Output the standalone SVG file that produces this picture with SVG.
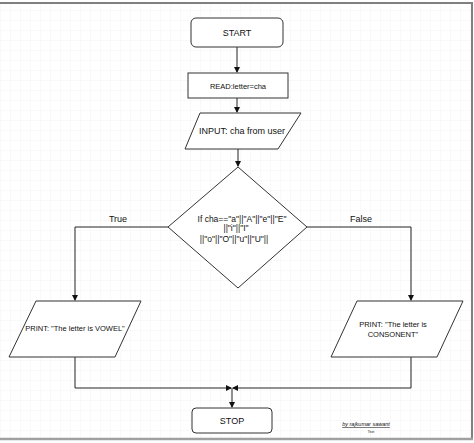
<svg xmlns="http://www.w3.org/2000/svg" width="474" height="443" viewBox="0 0 474 443">
<defs>
<pattern id="grid" width="10" height="10" patternUnits="userSpaceOnUse">
<path d="M10 0 L0 0 0 10" fill="none" stroke="#f4f4f4" stroke-width="1"/>
</pattern>
<marker id="arr" markerWidth="6" markerHeight="6" refX="5" refY="3" orient="auto" markerUnits="userSpaceOnUse">
<path d="M0 0 L6 3 L0 6 Z" fill="#111"/>
</marker>
<style>
.shape{fill:#fff;stroke:#333;stroke-width:1}
.t{font-family:"Liberation Sans",Arial,sans-serif;fill:#111;text-anchor:middle}
.edge{fill:none;stroke:#222;stroke-width:1}
</style>
</defs>
<rect x="0" y="0" width="474" height="443" fill="#fff"/>
<rect x="0" y="4" width="471" height="434" fill="url(#grid)"/>
<line x1="0" y1="3" x2="473" y2="3" stroke="#808080" stroke-width="2"/>
<line x1="472" y1="3" x2="472" y2="439" stroke="#808080" stroke-width="2"/>
<line x1="0" y1="439" x2="473" y2="439" stroke="#a0a0a0" stroke-width="2.5"/>

<g id="connectors">
<line class="edge" x1="237" y1="47" x2="237" y2="72" marker-end="url(#arr)"/>
<line class="edge" x1="237" y1="98" x2="237" y2="112" marker-end="url(#arr)"/>
<line class="edge" x1="238" y1="149" x2="238" y2="166" marker-end="url(#arr)"/>
<polyline class="edge" points="168,227 75,227 75,300" marker-end="url(#arr)"/>
<polyline class="edge" points="307,227 411,227 411,300" marker-end="url(#arr)"/>
<polyline class="edge" points="75,357 75,388 231,388" marker-end="url(#arr)"/>
<polyline class="edge" points="411,357 411,388 233,388" marker-end="url(#arr)"/>
<line class="edge" x1="232" y1="388" x2="232" y2="407" marker-end="url(#arr)"/>
<text class="t" x="118" y="222" font-size="9">True</text>
<text class="t" x="361" y="222" font-size="9">False</text>
</g>

<g id="start">
<rect class="shape" x="191" y="18" width="92" height="29" rx="5"/>
<text class="t" x="237" y="36" font-size="9">START</text>
</g>
<g id="read">
<rect class="shape" x="188" y="73" width="100" height="25"/>
<text class="t" x="238" y="88.5" font-size="7.5">READ:letter=cha</text>
</g>
<g id="input">
<polygon class="shape" points="200,113 301,113 278,149 185,149"/>
<text class="t" x="242" y="134" font-size="9">INPUT: cha from user</text>
</g>
<g id="decision">
<polygon class="shape" points="238,167 307,227 238,288 168,227"/>
<text class="t" x="242" y="222" font-size="8.5">If cha=="a"||"A"||"e"||"E"</text>
<text class="t" x="236" y="231" font-size="8.5">||"i"||"I"</text>
<text class="t" x="234" y="242" font-size="8.5">||"o"||"O"||"u"||"U"||</text>
</g>
<g id="vowel">
<polygon class="shape" points="36,301 141,301 115,357 9,357"/>
<text class="t" x="75" y="331" font-size="7.5">PRINT: "The letter is VOWEL"</text>
</g>
<g id="consonent">
<polygon class="shape" points="357,301 463,301 437,357 331,357"/>
<text class="t" x="393" y="327" font-size="7.5">PRINT: "The letter is</text>
<text class="t" x="393" y="337" font-size="7.5">CONSONENT"</text>
</g>
<g id="stop">
<rect class="shape" x="192" y="408" width="80" height="25" rx="4"/>
<text class="t" x="232" y="424" font-size="9">STOP</text>
</g>
<g id="credit">
<text class="t" x="366" y="426" font-size="5.5" font-style="italic" text-decoration="underline">by rajkumar sawant</text>
<text class="t" x="371" y="433" font-size="3.5">Text</text>
</g>
</svg>
